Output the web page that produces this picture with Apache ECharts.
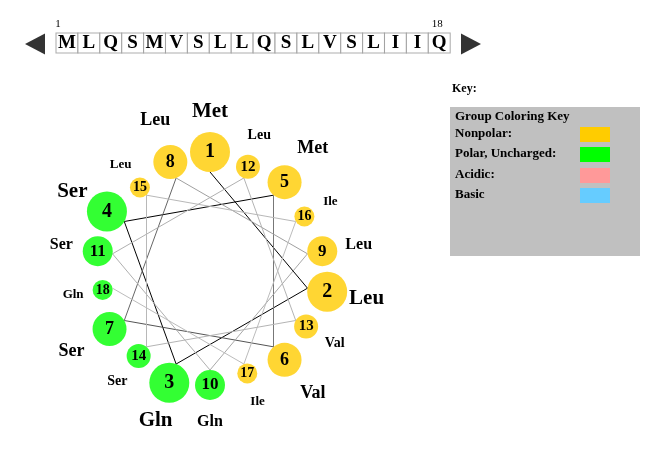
<!DOCTYPE html>
<html>
<head>
<meta charset="utf-8">
<script src="https://cdn.jsdelivr.net/npm/echarts@6/dist/echarts.min.js"></script>
<style>
html,body{margin:0;padding:0;background:#fff;}
#chart{width:647px;height:455px;}
</style>
</head>
<body>
<div id="chart"></div>
<script>
// ---- data ----
const sequence = ['M','L','Q','S','M','V','S','L','L','Q','S','L','V','S','L','I','I','Q'];
const residueNames = ['Met','Leu','Gln','Ser','Met','Val','Ser','Leu','Leu','Gln','Ser','Leu','Val','Ser','Leu','Ile','Ile','Gln'];
const residueGroups = ['Nonpolar','Nonpolar','Polar','Polar','Nonpolar','Nonpolar','Polar','Nonpolar','Nonpolar','Polar','Polar','Nonpolar','Nonpolar','Polar','Nonpolar','Nonpolar','Nonpolar','Polar'];
const stepAngle = 100; // degrees per residue
const keyLabels = ['Nonpolar:','Polar, Uncharged:','Acidic:','Basic'];
const keyGroups = ['Nonpolar','Polar','Acidic','Basic'];
const seqEndLabels = ['1','18'];

// ---- styles / layout ----
const keyColors = {Nonpolar:'#ffcc00', Polar:'#00ff00', Acidic:'#ff9999', Basic:'#66ccff'};
const tierOf = [0,0,0,0,1,1,1,1,2,2,2,3,3,3,4,4,4,4];
const tierCircleR = [20,17,15,12,10];
const tierNumFont = [20,18,17,15,14];
const tierNameFont = [21,18,16,14,13];
const tierNameGap = [40,44,37,33,30];
const lineGray = [0,0,0,0,0x77,0x55,0x66,0xa0,0xa8,0xb0,0xb0,0xb4,0xb4,0xb8,0xb8,0xbc,0xbc];
const CX = 210, CY = 271, INNER_R = 99;
const SERIF = '"Liberation Serif","DejaVu Serif",serif';
const seqLeft = 56, seqCellW = 21.9, seqY = 43, seqCellH = 20;

function polar(r, deg){
  const a = deg*Math.PI/180;
  return [CX + r*Math.sin(a), CY - r*Math.cos(a)];
}

// lines between consecutive residues (inner edge points)
const lineData = [];
for (let i=0;i<sequence.length-1;i++){
  const g = lineGray[i];
  lineData.push({
    coords:[polar(INNER_R, i*stepAngle), polar(INNER_R, (i+1)*stepAngle)],
    lineStyle:{color:'rgb('+g+','+g+','+g+')', width:1, opacity:1}
  });
}

const blackLabel = {show:true, position:'inside', fontFamily:SERIF, fontWeight:'bold',
  color:'#000000', textBorderWidth:0, opacity:1};

const circleData = sequence.map((s,i)=>{
  const t = tierOf[i], r = tierCircleR[t];
  return {
    value: polar(INNER_R + r, i*stepAngle),
    symbolSize: 2*r,
    itemStyle:{color:keyColors[residueGroups[i]]},
    label:Object.assign({}, blackLabel, {formatter:String(i+1), fontSize:tierNumFont[t]})
  };
});

const nameData = residueNames.map((n,i)=>{
  const t = tierOf[i], r = tierCircleR[t];
  return {
    value: polar(INNER_R + r + tierNameGap[t], i*stepAngle),
    label:Object.assign({}, blackLabel, {formatter:n, fontSize:tierNameFont[t]})
  };
});

const seqData = sequence.map((s,i)=>({
  value:[seqLeft + seqCellW*(i+0.5), seqY],
  label:{formatter:s}
}));

const endData = [
  {value:[seqLeft + 2, 24], label:{formatter:seqEndLabels[0]}},
  {value:[seqLeft + seqCellW*17 + 9, 24], label:{formatter:seqEndLabels[1]}}
];

const arrowData = [
  {value:[35, 44], symbolRotate:90},
  {value:[471, 44], symbolRotate:-90}
];

const keyGraphics = [
  {type:'text', left:452, top:83, style:{text:'Key:', font:'bold 12px '+SERIF, fill:'#000'}},
  {type:'rect', shape:{x:450,y:107,width:190,height:149}, style:{fill:'#c0c0c0'}},
  {type:'text', left:455, top:110, style:{text:'Group Coloring Key', font:'bold 13px '+SERIF, fill:'#000'}}
];
const keyRowY = [134, 154, 175, 195];
keyLabels.forEach((lab,k)=>{
  keyGraphics.push({type:'text', left:455, top:keyRowY[k]-7, style:{text:lab, font:'bold 13px '+SERIF, fill:'#000'}});
  keyGraphics.push({type:'rect', shape:{x:580, y:keyRowY[k]-7, width:30, height:15}, style:{fill:keyColors[keyGroups[k]]}});
});

const chart = echarts.init(document.getElementById('chart'), null, {renderer:'canvas'});
chart.setOption({
  animation:false,
  backgroundColor:'#ffffff',
  textStyle:{color:'#000000'},
  grid:{left:0, top:0, right:0, bottom:0},
  xAxis:{type:'value', min:0, max:647, show:false},
  yAxis:{type:'value', min:0, max:455, inverse:true, show:false},
  graphic: keyGraphics,
  series:[
    {type:'lines', coordinateSystem:'cartesian2d', z:1, data:lineData, silent:true},
    {type:'scatter', z:3, symbol:'circle', data:circleData, label:blackLabel, silent:true},
    {type:'scatter', z:3, symbol:'circle', symbolSize:0, itemStyle:{color:'#000000'}, label:blackLabel,
      data:nameData, silent:true},
    {type:'scatter', z:3, symbol:'rect', symbolSize:[seqCellW, seqCellH],
      itemStyle:{color:'#ffffff', borderColor:'#999999', borderWidth:1},
      label:Object.assign({}, blackLabel, {fontSize:19}),
      data:seqData, silent:true},
    {type:'scatter', z:3, symbol:'circle', symbolSize:0, itemStyle:{color:'#000000'},
      label:Object.assign({}, blackLabel, {fontSize:11, fontWeight:'normal'}),
      data:endData, silent:true},
    {type:'scatter', z:3, symbol:'triangle', symbolSize:[21,20], itemStyle:{color:'#000'},
      data:arrowData, silent:true}
  ]
});
</script>
</body>
</html>
